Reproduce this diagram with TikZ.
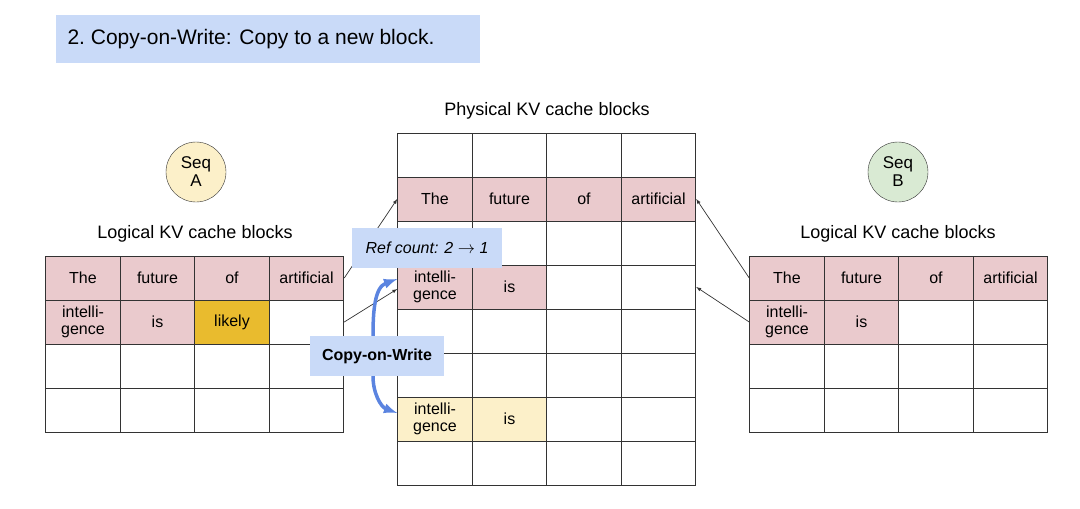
\documentclass[tikz,border=0pt]{standalone}
\usepackage{fontspec}
\setmainfont{Liberation Sans}
\usetikzlibrary{positioning}
\definecolor{pinkc}{HTML}{EACACD}
\definecolor{goldc}{HTML}{E9BB2E}
\definecolor{creamc}{HTML}{FCF0C9}
\definecolor{boxc}{HTML}{C9DAF8}
\definecolor{greenc}{HTML}{D9EAD3}
\definecolor{arcc}{HTML}{5B84E0}
\tikzset{
  cell/.style={draw=black!80, line width=1pt, minimum width=74.5pt, minimum height=44pt,
    inner sep=0pt, align=center, font=\fontsize{16}{17}\selectfont},
  lbl/.style={font=\fontsize{18}{18}\selectfont},
  seq/.style={circle, draw=black!80, minimum size=60pt, align=center, font=\fontsize{17}{18}\selectfont},
  tag/.style={fill=boxc, inner sep=0pt, minimum height=40pt, font=\fontsize{16}{16}\selectfont},
  ptr/.style={-latex, black!80, line width=0.7pt},
  cow/.style={-latex, arcc, line width=3.5pt},
}
\begin{document}
\begin{tikzpicture}[x=1pt,y=-1pt]
  \useasboundingbox (0,0) rectangle (1080,509);
  % title
  \node[fill=boxc, minimum width=424pt, minimum height=48pt, anchor=north west] (title) at (56,15) {};
  \node[anchor=west, font=\fontsize{21}{21}\selectfont] at (64,39) {2.~Copy-on-Write: Copy to a new block.};
  % grids
  \foreach \r in {0,...,7}
    \foreach \c in {0,...,3}
      \node[cell] (P-\r-\c) at (435+74.5*\c, 155+44*\r) {};
  \foreach \r in {0,...,3}
    \foreach \c in {0,...,3} {
      \node[cell] (L-\r-\c) at (83+74.5*\c, 278+44*\r) {};
      \node[cell] (R-\r-\c) at (787+74.5*\c, 278+44*\r) {};
    }
  % filled cells
  \foreach \c/\t in {0/The,1/future,2/of,3/artificial} {
    \node[cell, fill=pinkc] at (P-1-\c) {\t};
    \node[cell, fill=pinkc] at (L-0-\c) {\t};
    \node[cell, fill=pinkc] at (R-0-\c) {\t};
  }
  \foreach \g in {P-3, L-1, R-1} {
    \node[cell, fill=pinkc] at (\g-0) {intelli-\\gence};
    \node[cell, fill=pinkc] at (\g-1) {is};
  }
  \node[cell, fill=goldc] at (L-1-2) {likely};
  \node[cell, fill=creamc] at (P-6-0) {intelli-\\gence};
  \node[cell, fill=creamc] at (P-6-1) {is};
  % labels
  \node[lbl] (phys) at (547,111) {Physical KV cache blocks};
  \node[lbl] (logA) at (195,234) {Logical KV cache blocks};
  \node[lbl] (logB) at (898,234) {Logical KV cache blocks};
  \node[seq, fill=creamc] (seqA) at (196,172) {Seq\\A};
  \node[seq, fill=greenc] (seqB) at (898,172) {Seq\\B};
  % block pointers
  \draw[ptr] (L-0-3.east) -- (P-1-0.west);
  \draw[ptr] (L-1-3.east) -- ([yshift=-2pt]P-3-0.west);
  \draw[ptr] (R-0-0.west) -- (P-1-3.east);
  \draw[ptr] (R-1-0.west) -- (P-3-3.east);
  % copy-on-write
  \node[tag, minimum width=150pt, font=\fontsize{16}{16}\itshape] (ref) at (427,248) {Ref count: 2 $\rightarrow$ 1};
  \node[tag, minimum width=134pt, font=\fontsize{16}{16}\bfseries] (cow) at (377,356) {Copy-on-Write};
  \draw[cow] ([xshift=-4pt]cow.north) to[out=90, in=200] ([yshift=8pt]P-3-0.west);
  \draw[cow] ([xshift=-4pt]cow.south) to[out=-90, in=160] ([yshift=6pt]P-6-0.west);
\end{tikzpicture}
\end{document}
